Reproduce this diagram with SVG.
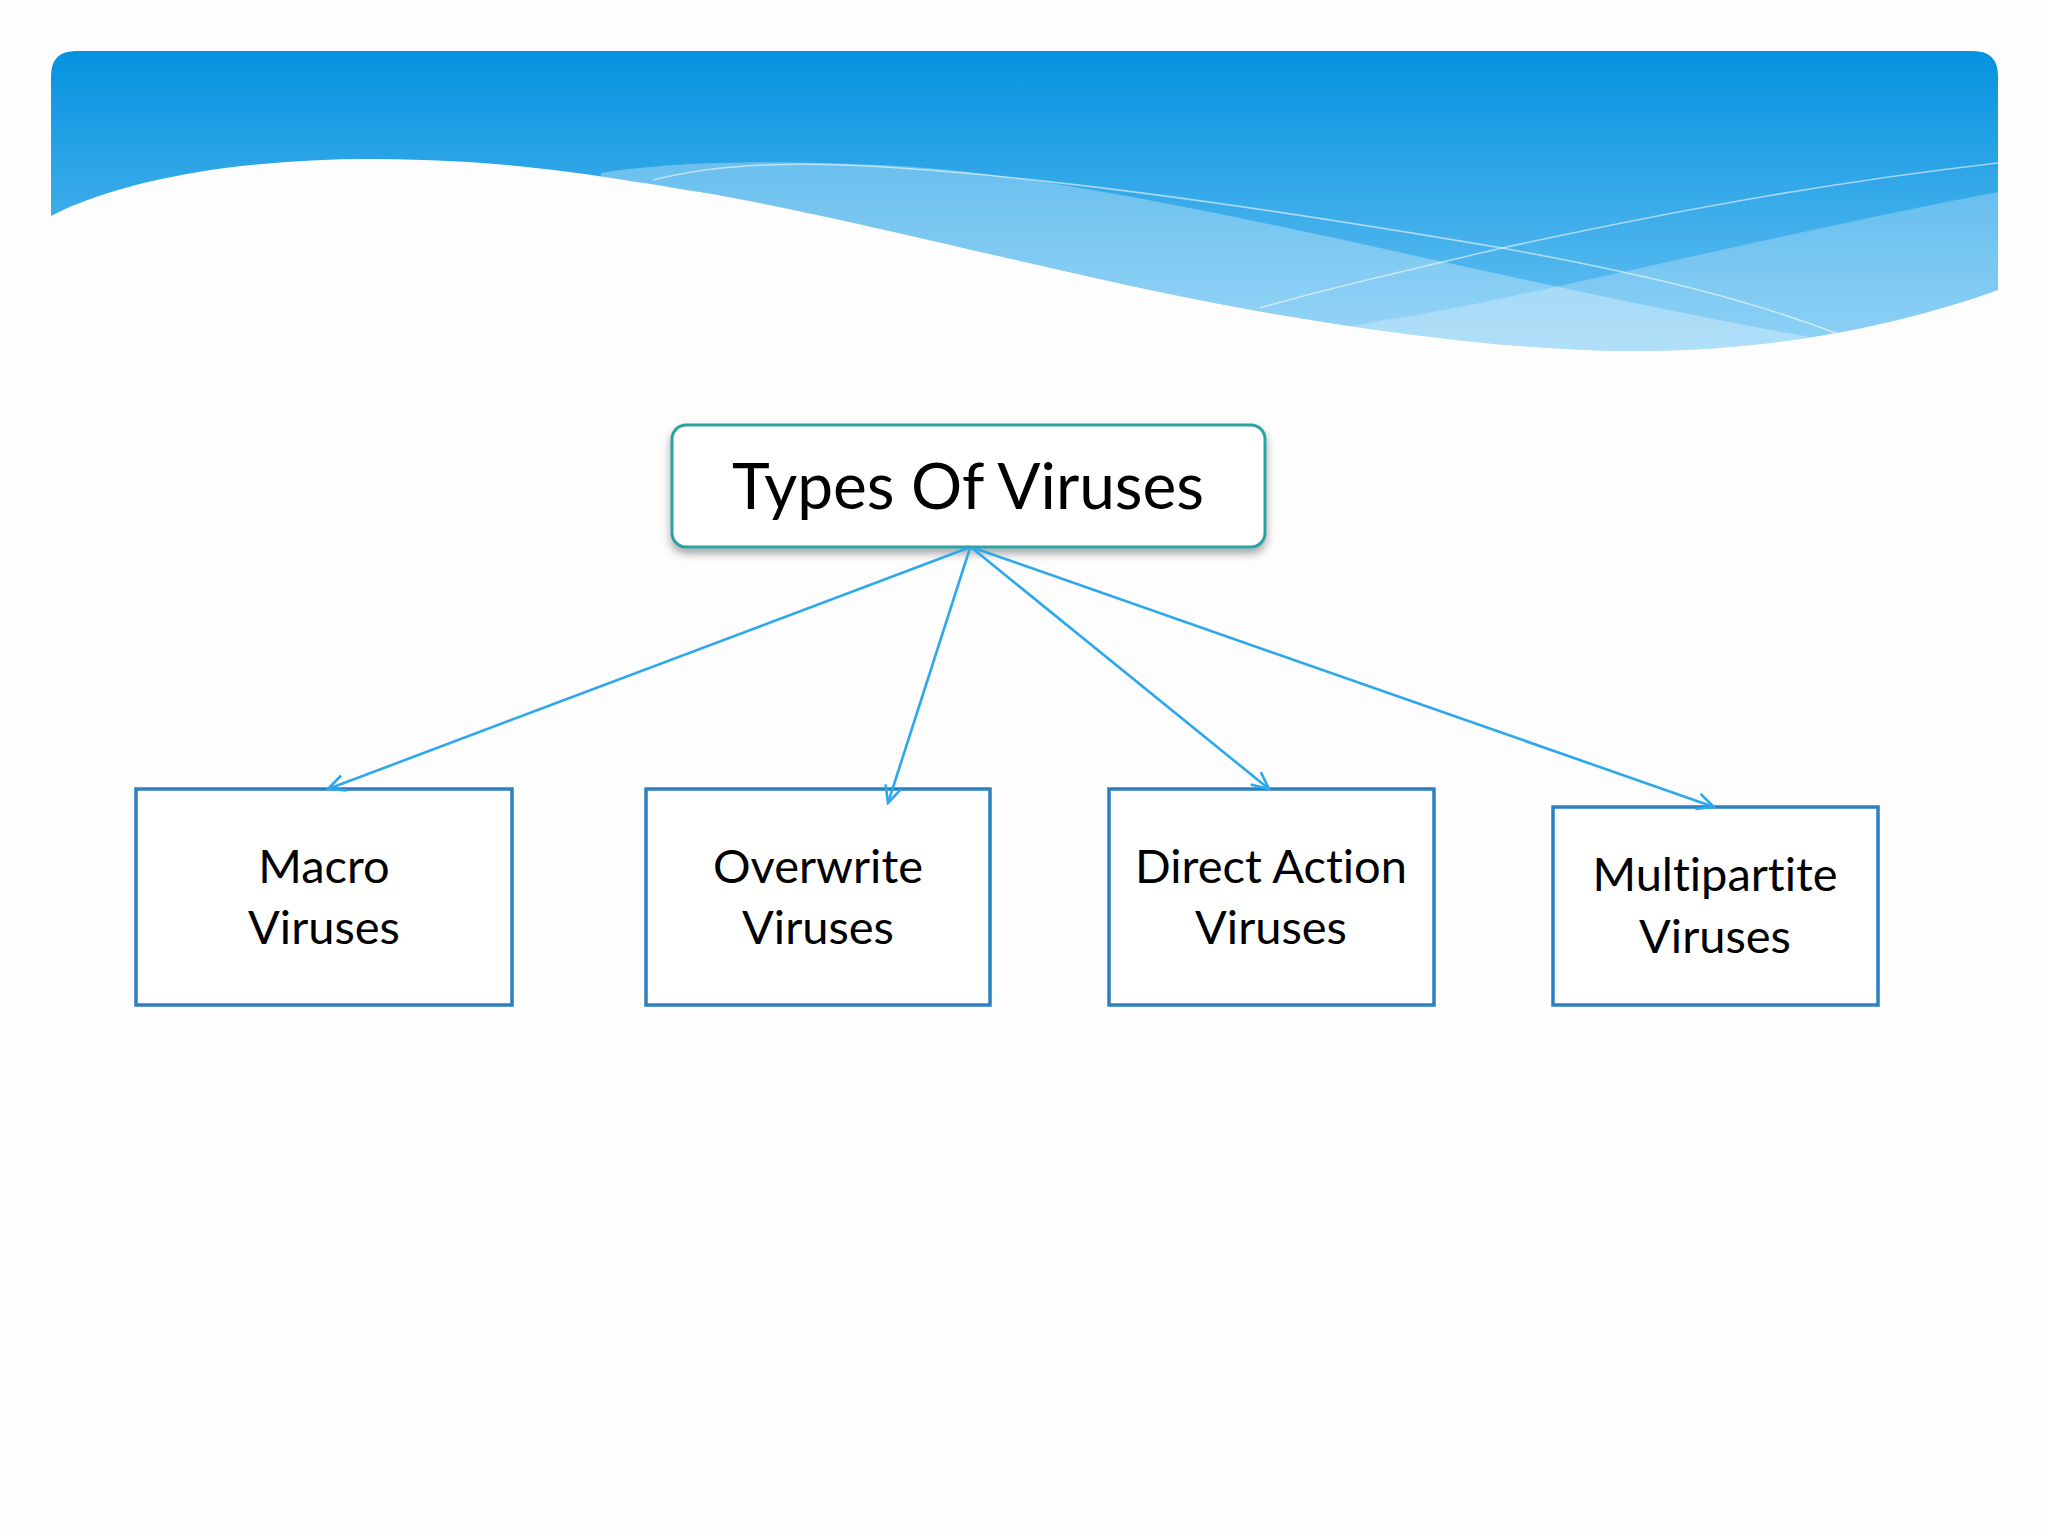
<svg xmlns="http://www.w3.org/2000/svg" width="2048" height="1536" viewBox="0 0 2048 1536">
<style>
.lbl{font-family:Lato,"Open Sans","Liberation Sans",sans-serif;fill:#000;text-anchor:middle;font-variant-ligatures:none;font-feature-settings:"liga" 0,"clig" 0}
.box{fill:#fff;stroke:#2a80c0;stroke-width:3.5}
.conn{stroke:#2ea8ec;stroke-width:2.6;fill:none;marker-end:url(#arr)}
.thin{fill:none;stroke:#fff;stroke-opacity:0.55;stroke-width:1.6}
</style>
<defs>
<linearGradient id="bg" x1="0" y1="51" x2="0" y2="350" gradientUnits="userSpaceOnUse">
<stop offset="0" stop-color="#0592df"/>
<stop offset="1" stop-color="#6ac3f3"/>
</linearGradient>
<clipPath id="bannerClip">
<path d="M51,216 L51,76 Q51,51 76,51 L1973,51 Q1998,51 1998,76 L1998,290 C1900,325 1780,350 1640,351 C1500,352 1300,322 1150,290 C1000,258 820,212 700,192 C580,172 500,160 379,159 C260,158 130,175 51,216 Z"/>
</clipPath>
<marker id="arr" viewBox="0 0 22 22" refX="20" refY="11" markerWidth="22" markerHeight="22" markerUnits="userSpaceOnUse" orient="auto">
<path d="M3,3 L20,11 L3,19" fill="none" stroke="#2ea8ec" stroke-width="2.6"/>
</marker>
<filter id="shadow" x="-10%" y="-20%" width="120%" height="150%">
<feDropShadow dx="0" dy="5" stdDeviation="4" flood-color="#000" flood-opacity="0.35"/>
</filter>
</defs>
<rect width="2048" height="1536" fill="#fdfdfd"/>
<g id="banner">
<path d="M51,216 L51,76 Q51,51 76,51 L1973,51 Q1998,51 1998,76 L1998,290 C1900,325 1780,350 1640,351 C1500,352 1300,322 1150,290 C1000,258 820,212 700,192 C580,172 500,160 379,159 C260,158 130,175 51,216 Z" fill="url(#bg)"/>
<g clip-path="url(#bannerClip)">
<path d="M601,173 C680,160 800,160 914,167 C1000,173 1100,190 1200,210 C1400,250 1600,300 1815,338 L1815,420 L601,420 Z" fill="#fff" fill-opacity="0.3"/>
<path d="M1998,192 C1850,220 1700,255 1541,290 C1470,305 1420,315 1384,320 C1340,328 1300,336 1260,345 L1260,420 L1998,420 Z" fill="#fff" fill-opacity="0.25"/>
<path class="thin" d="M653,180 C720,163 800,161 900,168 C1050,178 1250,205 1502,248 C1650,275 1750,300 1841,335"/>
<path class="thin" d="M1998,163 C1850,180 1700,205 1502,248 C1400,272 1320,290 1260,308"/>
</g>
</g>
<g id="node-types">
<rect x="672" y="425" width="593" height="122" rx="14" fill="#fff" stroke="#2aa3a0" stroke-width="3" filter="url(#shadow)"/>
<text class="lbl" x="968" y="509" font-size="64">Types Of Viruses</text>
</g>
<g id="node-macro">
<rect class="box" x="136" y="789" width="376" height="216"/>
<text class="lbl" x="324" y="883" font-size="47">Macro</text>
<text class="lbl" x="324" y="944" font-size="47">Viruses</text>
</g>
<g id="node-overwrite">
<rect class="box" x="646" y="789" width="344" height="216"/>
<text class="lbl" x="818" y="883" font-size="47">Overwrite</text>
<text class="lbl" x="818" y="944" font-size="47">Viruses</text>
</g>
<g id="node-direct">
<rect class="box" x="1109" y="789" width="325" height="216"/>
<text class="lbl" x="1271" y="883" font-size="47">Direct Action</text>
<text class="lbl" x="1271" y="944" font-size="47">Viruses</text>
</g>
<g id="node-multipartite">
<rect class="box" x="1553" y="807" width="325" height="198"/>
<text class="lbl" x="1715" y="891" font-size="47">Multipartite</text>
<text class="lbl" x="1715" y="953" font-size="47">Viruses</text>
</g>
<g id="connectors">
<path class="conn" d="M968,548 L328,789"/>
<path class="conn" d="M970,548 L888,803"/>
<path class="conn" d="M972,548 L1269,789"/>
<path class="conn" d="M974,548 L1714,807"/>
</g>
</svg>
